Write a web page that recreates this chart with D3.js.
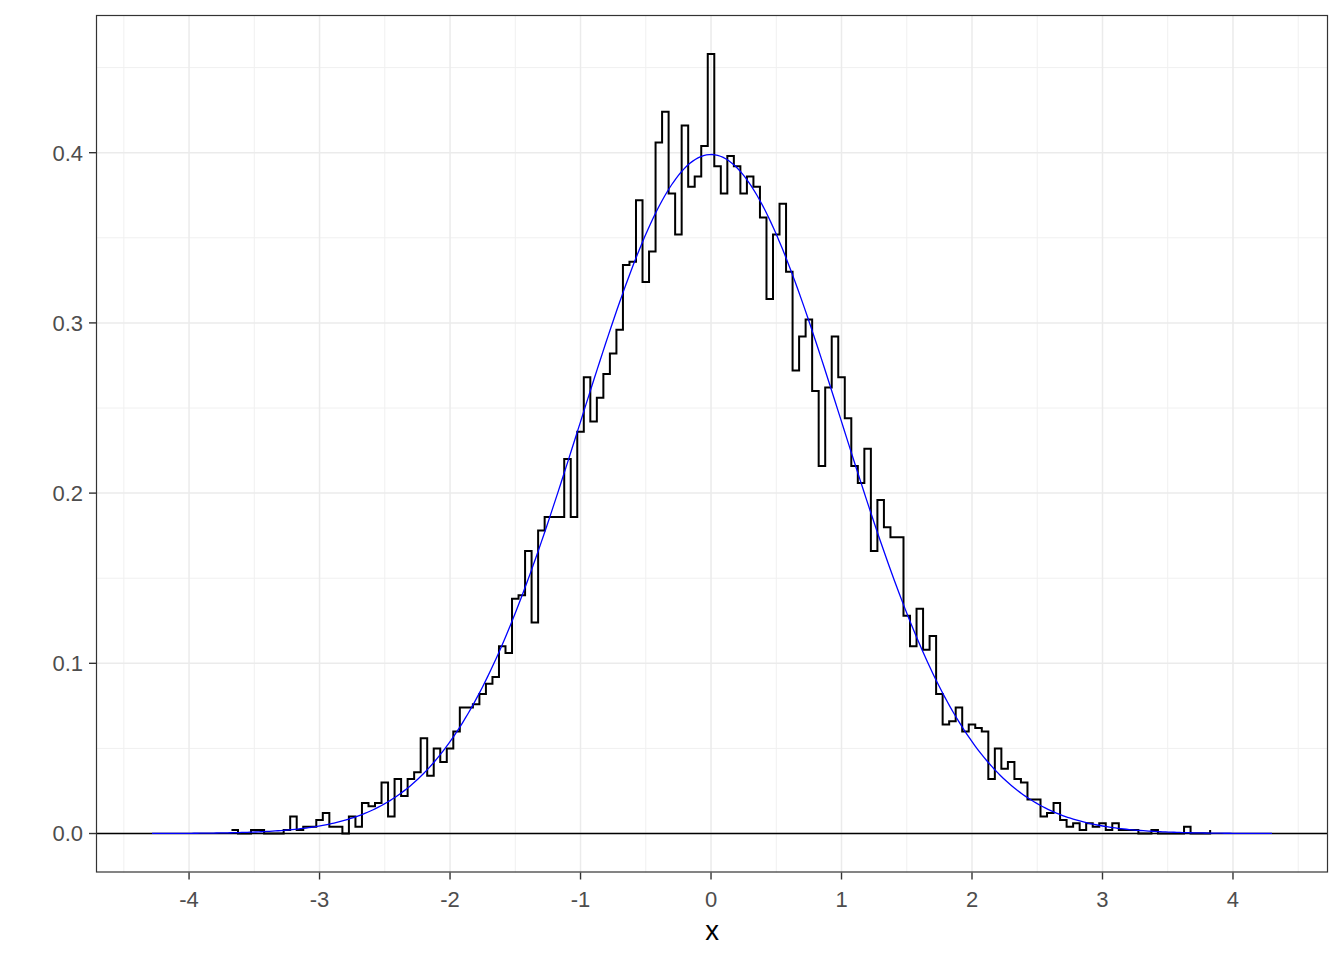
<!DOCTYPE html>
<html>
<head>
<meta charset="utf-8">
<script src="https://cdn.jsdelivr.net/npm/d3@7"></script>
<style>
  html, body { margin: 0; padding: 0; background: #ffffff; }
  svg { display: block; }
  text { font-family: "Liberation Sans", Arial, "DejaVu Sans", sans-serif; }
</style>
</head>
<body>
<svg id="chart" width="1344" height="960"></svg>
<script>
// ---- data ----
const binWidth = 0.05;
const firstBreak = -3.675;            // left edge of the first histogram bin
const density = [
  0.002, 0, 0, 0.002, 0.002, 0, 0, 0, 0.002, 0.010,            // -3.65 .. -3.20
  0.002, 0.004, 0.004, 0.008, 0.012, 0.004, 0.004, 0, 0.010, 0.004, // -3.15 .. -2.70
  0.018, 0.016, 0.018, 0.030, 0.010, 0.032, 0.022, 0.032, 0.036, 0.056, // -2.65 .. -2.20
  0.034, 0.050, 0.042, 0.050, 0.060, 0.074, 0.074, 0.076, 0.082, 0.088, // -2.15 .. -1.70
  0.092, 0.110, 0.106, 0.138, 0.140, 0.166, 0.124, 0.178, 0.186, 0.186, // -1.65 .. -1.20
  0.186, 0.220, 0.186, 0.236, 0.268, 0.242, 0.256, 0.270, 0.282, 0.296, // -1.15 .. -0.70
  0.334, 0.336, 0.372, 0.324, 0.342, 0.406, 0.424, 0.376, 0.352, 0.416, // -0.65 .. -0.20
  0.380, 0.386, 0.404, 0.458, 0.392, 0.376, 0.398, 0.392, 0.376, 0.386, // -0.15 .. 0.30
  0.380, 0.362, 0.314, 0.352, 0.370, 0.330, 0.272, 0.292, 0.302, 0.260, // 0.35 .. 0.80
  0.216, 0.262, 0.292, 0.268, 0.244, 0.216, 0.206, 0.226, 0.166, 0.196, // 0.85 .. 1.30
  0.180, 0.174, 0.174, 0.128, 0.110, 0.132, 0.108, 0.116, 0.082, 0.064, // 1.35 .. 1.80
  0.066, 0.074, 0.060, 0.064, 0.062, 0.060, 0.032, 0.050, 0.038, 0.042, // 1.85 .. 2.30
  0.032, 0.030, 0.020, 0.020, 0.010, 0.012, 0.018, 0.008, 0.004, 0.006, // 2.35 .. 2.80
  0.002, 0.006, 0.004, 0.006, 0.002, 0.006, 0.002, 0.002, 0.002, 0,     // 2.85 .. 3.30
  0, 0.002, 0, 0, 0, 0, 0.004, 0, 0, 0, 0.002                         // 3.35 .. 3.85
];
const normMean = 0;
const normSd = 1;
const sampleRange = [-4.284, 4.299];   // range of the sample (curve span)
const xTicks = [-4, -3, -2, -1, 0, 1, 2, 3, 4];
const xTickLabels = ["-4", "-3", "-2", "-1", "0", "1", "2", "3", "4"];
const xMinor = [-4.5, -3.5, -2.5, -1.5, -0.5, 0.5, 1.5, 2.5, 3.5, 4.5];
const yTicks = [0, 0.1, 0.2, 0.3, 0.4];
const yTickLabels = ["0.0", "0.1", "0.2", "0.3", "0.4"];
const yMinor = [0.05, 0.15, 0.25, 0.35, 0.45];
const xTitle = "x";

// ---- layout ----
const panel = { left: 96, right: 1328, top: 15, bottom: 872.5 };
const svg = d3.select("#chart");

const xSpan = sampleRange[1] - sampleRange[0];
const x = d3.scaleLinear()
  .domain([sampleRange[0] - 0.05 * xSpan, sampleRange[1] + 0.05 * xSpan])
  .range([panel.left, panel.right]);
const yMax = d3.max(density);
const y = d3.scaleLinear()
  .domain([-0.05 * yMax, 1.05 * yMax])
  .range([panel.bottom, panel.top]);

// panel background
svg.append("rect")
  .attr("x", panel.left).attr("y", panel.top)
  .attr("width", panel.right - panel.left).attr("height", panel.bottom - panel.top)
  .attr("fill", "#ffffff");

const grid = svg.append("g");
// minor grid
grid.selectAll("line.xminor").data(xMinor).join("line")
  .attr("x1", d => x(d)).attr("x2", d => x(d))
  .attr("y1", panel.top).attr("y2", panel.bottom)
  .attr("stroke", "#f0f0f0").attr("stroke-width", 1);
grid.selectAll("line.yminor").data(yMinor).join("line")
  .attr("y1", d => y(d)).attr("y2", d => y(d))
  .attr("x1", panel.left).attr("x2", panel.right)
  .attr("stroke", "#f0f0f0").attr("stroke-width", 1);
// major grid
grid.selectAll("line.xmajor").data(xTicks).join("line")
  .attr("x1", d => x(d)).attr("x2", d => x(d))
  .attr("y1", panel.top).attr("y2", panel.bottom)
  .attr("stroke", "#ebebeb").attr("stroke-width", 1.5);
grid.selectAll("line.ymajor").data(yTicks).join("line")
  .attr("y1", d => y(d)).attr("y2", d => y(d))
  .attr("x1", panel.left).attr("x2", panel.right)
  .attr("stroke", "#ebebeb").attr("stroke-width", 1.5);

// horizontal line at 0
svg.append("line")
  .attr("x1", panel.left).attr("x2", panel.right)
  .attr("y1", y(0)).attr("y2", y(0))
  .attr("stroke", "#000000").attr("stroke-width", 1.7);

// histogram step outline
const steps = density.map((d, i) => ({ x: firstBreak + i * binWidth, y: d }));
svg.append("path")
  .datum(steps)
  .attr("fill", "none")
  .attr("stroke", "#000000")
  .attr("stroke-width", 2)
  .attr("stroke-linejoin", "miter")
  .attr("d", d3.line().x(d => x(d.x)).y(d => y(d.y)).curve(d3.curveStepAfter));

// normal density curve
const nPts = 401;
const curvePts = d3.range(nPts).map(i => {
  const xv = sampleRange[0] + (sampleRange[1] - sampleRange[0]) * i / (nPts - 1);
  const z = (xv - normMean) / normSd;
  return { x: xv, y: Math.exp(-0.5 * z * z) / (normSd * Math.sqrt(2 * Math.PI)) };
});
svg.append("path")
  .datum(curvePts)
  .attr("fill", "none")
  .attr("stroke", "#0000ff")
  .attr("stroke-width", 1.3)
  .attr("d", d3.line().x(d => x(d.x)).y(d => y(d.y)));

// panel border
svg.append("rect")
  .attr("x", panel.left + 0.5).attr("y", panel.top + 0.5)
  .attr("width", panel.right - panel.left - 1).attr("height", panel.bottom - panel.top - 1)
  .attr("fill", "none").attr("stroke", "#333333").attr("stroke-width", 1.2);

// axes ticks & labels
const axisCol = "#333333";
const labCol = "#4d4d4d";
const xt = svg.append("g");
xt.selectAll("line").data(xTicks).join("line")
  .attr("x1", d => x(d)).attr("x2", d => x(d))
  .attr("y1", panel.bottom).attr("y2", panel.bottom + 7)
  .attr("stroke", axisCol).attr("stroke-width", 1.4);
xt.selectAll("text").data(xTicks).join("text")
  .attr("x", d => x(d)).attr("y", 906.5)
  .attr("text-anchor", "middle")
  .attr("font-size", 22).attr("fill", labCol)
  .text((d, i) => xTickLabels[i]);

const yt = svg.append("g");
yt.selectAll("line").data(yTicks).join("line")
  .attr("y1", d => y(d)).attr("y2", d => y(d))
  .attr("x1", panel.left - 7).attr("x2", panel.left)
  .attr("stroke", axisCol).attr("stroke-width", 1.4);
yt.selectAll("text").data(yTicks).join("text")
  .attr("x", panel.left - 13).attr("y", d => y(d) + 7.9)
  .attr("text-anchor", "end")
  .attr("font-size", 22).attr("fill", labCol)
  .text((d, i) => yTickLabels[i]);

// axis title
svg.append("text")
  .attr("x", (panel.left + panel.right) / 2).attr("y", 940)
  .attr("text-anchor", "middle")
  .attr("font-size", 27.5).attr("fill", "#000000")
  .text(xTitle);
</script>
</body>
</html>
